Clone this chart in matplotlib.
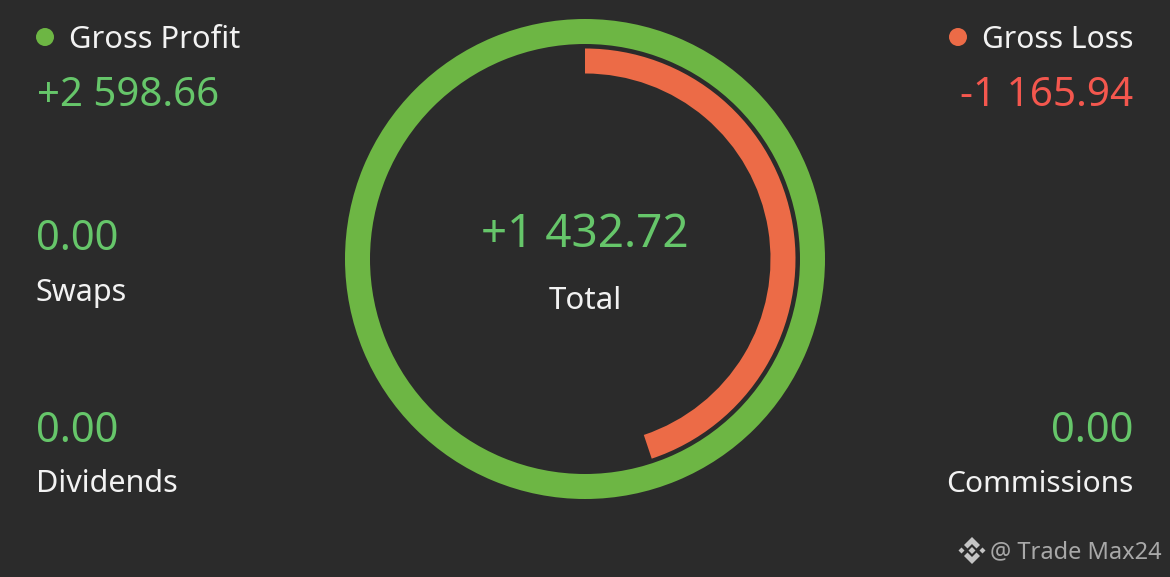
import matplotlib
matplotlib.use("Agg")
import matplotlib.pyplot as plt
from matplotlib.patches import Wedge, Circle, Polygon

profit = 2598.66
loss = 1165.94
total = 1432.72
profit_label = "+2 598.66"
loss_label = "-1 165.94"
total_label = "+1 432.72"
zero_label = "0.00"

W, H = 1170, 577
BG = "#2b2b2b"
GREEN = "#6db644"
ORANGE = "#ec6b47"
TXTG = "#66c66a"
TXTR = "#f4574e"
WHITE = "#f2f2f2"
LOGO = "#c4c4c4"
plt.rcParams['font.family'] = ['Noto Sans', 'DejaVu Sans']

fig = plt.figure(figsize=(W/100, H/100), dpi=100, facecolor=BG)
ax = fig.add_axes([0, 0, 1, 1])
ax.set_xlim(0, W); ax.set_ylim(H, 0); ax.axis("off")
ax.set_aspect("equal")

cx, cy = 585, 259
ax.add_patch(Wedge((cx, cy), 240, 0, 360, width=25, facecolor=GREEN, edgecolor="none"))
sweep = 360 * loss / profit
ax.add_patch(Wedge((cx, cy), 210.5, -90, -90 + sweep, width=25, facecolor=ORANGE, edgecolor="none"))


def t(x, y, s, c, ha="left", size=22):
    ax.text(x, y, s, color=c, ha=ha, va="center", fontsize=size)


ax.add_patch(Circle((45, 37), 9, facecolor=GREEN, edgecolor="none"))
ax.add_patch(Circle((958, 37), 9, facecolor=ORANGE, edgecolor="none"))
t(69, 40, "Gross Profit", WHITE, size=22.2)
t(1133.5, 40, "Gross Loss", WHITE, "right", size=21.6)
t(37, 96, profit_label, TXTG, size=28.9)
t(1133.5, 96, loss_label, TXTR, "right", size=29.2)
t(35.5, 239, zero_label, TXTG, size=30)
t(35.5, 293, "Swaps", WHITE, size=22)
t(35.5, 431, zero_label, TXTG, size=30)
t(36, 484, "Dividends", WHITE, size=22)
t(1133.5, 431, zero_label, TXTG, "right", size=30)
t(1133.5, 484, "Commissions", WHITE, "right", size=21.5)
t(585, 235, total_label, TXTG, "center", size=33)
t(585, 301, "Total", WHITE, "center", size=22.5)
ax.text(1162, 552, "@ Trade Max24", color="#a8a8a8", ha="right", va="center", fontsize=17)

# Decorative diamond logo beside the attribution text
lx, ly = 972, 550.5
logo_shapes = [
    [(0, -13.5), (8, -5.5), (4.5, -2), (0, -6.5), (-4.5, -2), (-8, -5.5)],
    [(0, 13.5), (8, 5.5), (4.5, 2), (0, 6.5), (-4.5, 2), (-8, 5.5)],
    [(-13.5, 0), (-10.5, -3), (-7.5, 0), (-10.5, 3)],
    [(13.5, 0), (10.5, -3), (7.5, 0), (10.5, 3)],
    [(0, -3.5), (3.5, 0), (0, 3.5), (-3.5, 0)],
]
for shape in logo_shapes:
    ax.add_patch(Polygon([(lx + a, ly + b) for a, b in shape], closed=True,
                         facecolor=LOGO, edgecolor="none"))

fig.savefig("out.png", dpi=100, facecolor=BG)
